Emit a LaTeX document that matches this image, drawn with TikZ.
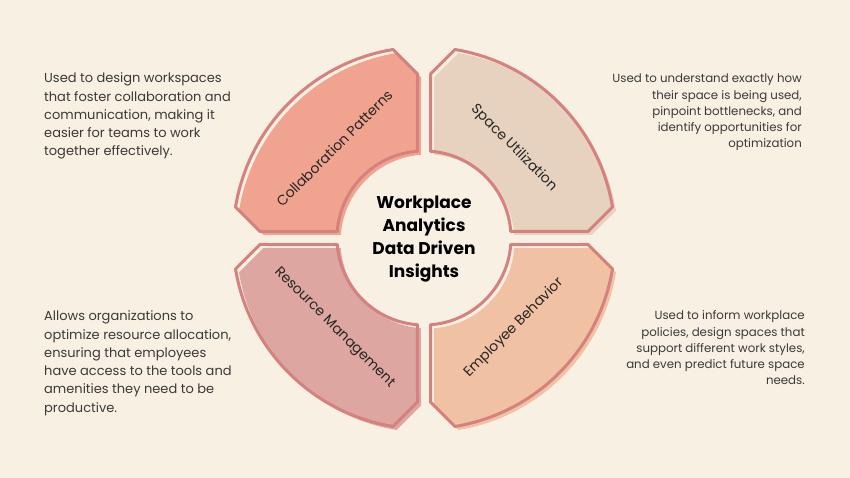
\documentclass[tikz,border=0pt]{standalone}
\usepackage{fontspec}
\setmainfont{Poppins}
\definecolor{bgcol}{HTML}{F8F0E3}
\definecolor{edgecol}{HTML}{D5817E}
\definecolor{collcol}{HTML}{F0A490}
\definecolor{spacecol}{HTML}{E6D2BE}
\definecolor{rescol}{HTML}{DEA6A1}
\definecolor{empcol}{HTML}{F0C1A2}
\definecolor{txtcol}{HTML}{3A3A3A}
\tikzstyle{segline}=[edgecol,line width=3pt,line join=round]
\tikzstyle{seglabel}=[black!85,font=\fontsize{14}{16}\selectfont,inner sep=0]
\tikzstyle{leftnote}=[txtcol,font=\fontsize{13}{18.2}\selectfont,inner sep=0,align=left,anchor=base west]
\tikzstyle{rightnote}=[txtcol,font=\fontsize{11.8}{16.2}\selectfont,inner sep=0,align=right,anchor=base east]
\def\Ri{87}  % inner radius
\def\Ro{191} % outer radius
\def\segment{(94.3:\Ri) -- (-6.5,164) -- (99.3:\Ro)
  arc[start angle=99.3,end angle=170.7,radius=\Ro] -- (-164,6.5) -- (175.7:\Ri)
  arc[start angle=175.7,end angle=94.3,radius=\Ri] -- cycle}

\begin{document}
\begin{tikzpicture}[x=1pt,y=1pt]
  \fill[bgcol] (-424,-240) rectangle (426,238);
  \useasboundingbox (-424,-240) rectangle (426,238);
  % ring segments: shifted fill, outline on top
  \foreach \rot/\col/\ang/\tilt/\lab [count=\i] in {0/collcol/135/45/Collaboration Patterns,
      -90/spacecol/45/-45/Space Utilization, 180/empcol/-45/45/Employee Behavior,
      90/rescol/225/-45/Resource Management}{
    \begin{scope}[shift={(3.5,-3.5)},rotate=\rot]
      \fill[\col] \segment;
    \end{scope}
    \begin{scope}[rotate=\rot]
      \draw[segline] \segment;
    \end{scope}
    \node[seglabel,rotate=\tilt] (seg\i) at (\ang:127) {\lab};
  }
  \node[font=\fontsize{17}{23.3}\selectfont\bfseries,align=center] (title) at (0,-1)
    {Workplace\\Analytics\\Data Driven\\Insights};
  % notes (base = last line)
  \node[leftnote] (collnote) at (-380,82.2)
    {Used to design workspaces\\that foster collaboration and\\communication, making it\\easier for teams to work\\together effectively.};
  \node[rightnote] (spacenote) at (378,90.2)
    {Used to understand exactly how\\their space is being used,\\pinpoint bottlenecks, and\\identify opportunities for\\optimization};
  \node[leftnote] (resnote) at (-380,-174)
    {Allows organizations to\\optimize resource allocation,\\ensuring that employees\\have access to the tools and\\amenities they need to be\\productive.};
  \node[rightnote] (empnote) at (381,-146.8)
    {Used to inform workplace\\policies, design spaces that\\support different work styles,\\and even predict future space\\needs.};
\end{tikzpicture}
\end{document}
